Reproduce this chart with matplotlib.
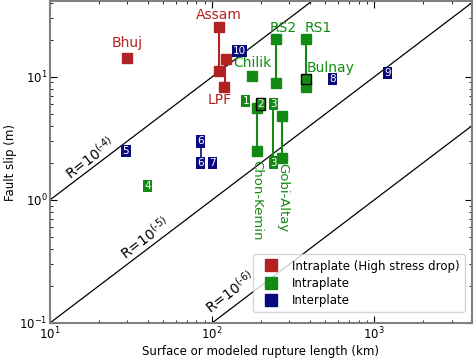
import numpy as np
import matplotlib
matplotlib.use("Agg")
import matplotlib.pyplot as plt
from matplotlib.lines import Line2D

RED = "#b22222"
GREEN = "#138a13"
BLUE = "#0a0a80"

# Intraplate (high stress drop) squares
red_x = [30, 110, 122, 110, 119]
red_y = [14.1, 25.4, 13.9, 11.1, 8.3]
red_links = [(110, 25.4, 11.1), (120, 13.9, 8.3)]
red_labels = [("Bhuj", 30, 18.7), ("Assam", 110, 31.7), ("LPF", 111, 6.45)]

# Intraplate squares
green_x = [248, 248, 377, 377, 175, 189, 189, 270, 270]
green_y = [20.2, 8.84, 20.2, 8.2, 10.1, 5.55, 2.5, 4.83, 2.2]
green_links = [(248, 20.2, 8.84), (377, 20.2, 8.2), (189, 5.55, 2.5),
               (238, 6.04, 2.01), (270, 4.83, 2.2)]
bulnay_x, bulnay_y = 377, 9.58
green_labels = [("RS2", 274, 24.8), ("RS1", 451, 24.8), ("Chilik", 176, 12.9),
                ("Bulnay", 535, 11.7)]
green_vlabels = [("Chon-Kemin", 189, 2.12), ("Gobi-Altay", 273, 2.0)]
green_nums = [("1", 161, 6.35), ("2", 199, 6.04), ("3", 238, 6.04),
              ("3", 238, 2.01), ("4", 40.1, 1.30)]

# Interplate numbered boxes
blue_nums = [("10", 147.5, 16.2), ("8", 551, 9.58), ("9", 1202, 10.7),
             ("5", 29.4, 2.5), ("6", 85.1, 2.99), ("6", 85.1, 1.99), ("7", 100, 1.99)]
blue_links = [(85.1, 2.99, 1.99)]

# Ratio lines
ratios = [1e-4, 1e-5, 1e-6]
ratio_labels = ["R=10$^{\\mathrm{(\u20104)}}$", "R=10$^{\\mathrm{(\u20105)}}$",
                "R=10$^{\\mathrm{(\u20106)}}$"]
ratio_label_pos = [(17.7, 2.2), (38.5, 0.49), (129, 0.178)]

fig = plt.figure(figsize=(4.74, 3.6), dpi=100)
ax = fig.add_axes([0.1055, 0.103, 0.89, 0.893])
ax.set_xscale("log")
ax.set_yscale("log")
ax.set_xlim(10, 4000)
ax.set_ylim(0.1, 41)

L = np.array([10, 4000.0])
for r in ratios:
    ax.plot(L, r * L * 1000, color="black", lw=0.9, zorder=1)
ang = np.degrees(np.arctan(123.3 / 162.0))
for lab, (lx, ly) in zip(ratio_labels, ratio_label_pos):
    ax.text(lx, ly, lab, rotation=ang, rotation_mode="anchor", fontsize=10,
            ha="center", va="center", color="black")

for x, y0, y1 in red_links:
    ax.plot([x, x], [y0, y1], color=RED, lw=1.5, zorder=2)
for x, y0, y1 in green_links:
    ax.plot([x, x], [y0, y1], color=GREEN, lw=1.5, zorder=2)
for x, y0, y1 in blue_links:
    ax.plot([x, x], [y0, y1], color=BLUE, lw=1.2, zorder=2)

ax.plot(red_x, red_y, "s", color=RED, ms=7.5, zorder=3, ls="none")
ax.plot(green_x, green_y, "s", color=GREEN, ms=7.5, zorder=3, ls="none")
ax.plot([bulnay_x], [bulnay_y], "s", color=GREEN, mec="black", mew=1.0, ms=7.5, zorder=4)

for t, x, y in red_labels:
    ax.text(x, y, t, color=RED, fontsize=10, ha="center", va="center")
for t, x, y in green_labels:
    ax.text(x, y, t, color=GREEN, fontsize=10, ha="center", va="center")
for t, x, y in green_vlabels:
    ax.text(x, y, t, color=GREEN, fontsize=9.5, ha="center", va="top", rotation=270)

for t, x, y in green_nums:
    ec = "black" if t == "2" else GREEN
    ax.text(x, y, t, color="white", fontsize=7.5, ha="center", va="center", zorder=5,
            bbox=dict(boxstyle="square,pad=0.12", fc=GREEN, ec=ec, lw=1.0 if t == "2" else 0))
for t, x, y in blue_nums:
    ax.text(x, y, t, color="white", fontsize=7.5, ha="center", va="center", zorder=5,
            bbox=dict(boxstyle="square,pad=0.12", fc=BLUE, ec=BLUE, lw=0))

ax.set_xlabel("Surface or modeled rupture length (km)", fontsize=8.5, labelpad=2)
ax.set_ylabel("Fault slip (m)", fontsize=8.5, labelpad=1)
ax.tick_params(which="both", direction="in", top=True, right=True, labelsize=8.5, pad=2)
ax.tick_params(which="major", length=5)
ax.tick_params(which="minor", length=2.5)
for s in ax.spines.values():
    s.set_color("#808080")
    s.set_linewidth(1.5)

handles = [Line2D([], [], marker="s", ls="none", color=c, ms=8.5) for c in (RED, GREEN, BLUE)]
ax.legend(handles, ["Intraplate (High stress drop)", "Intraplate", "Interplate"],
          loc="lower right", fontsize=8.5, handletextpad=0.8, borderpad=0.45,
          labelspacing=0.35, framealpha=0.8, bbox_to_anchor=(0.997, 0.015))

fig.savefig("out.png", dpi=100)
